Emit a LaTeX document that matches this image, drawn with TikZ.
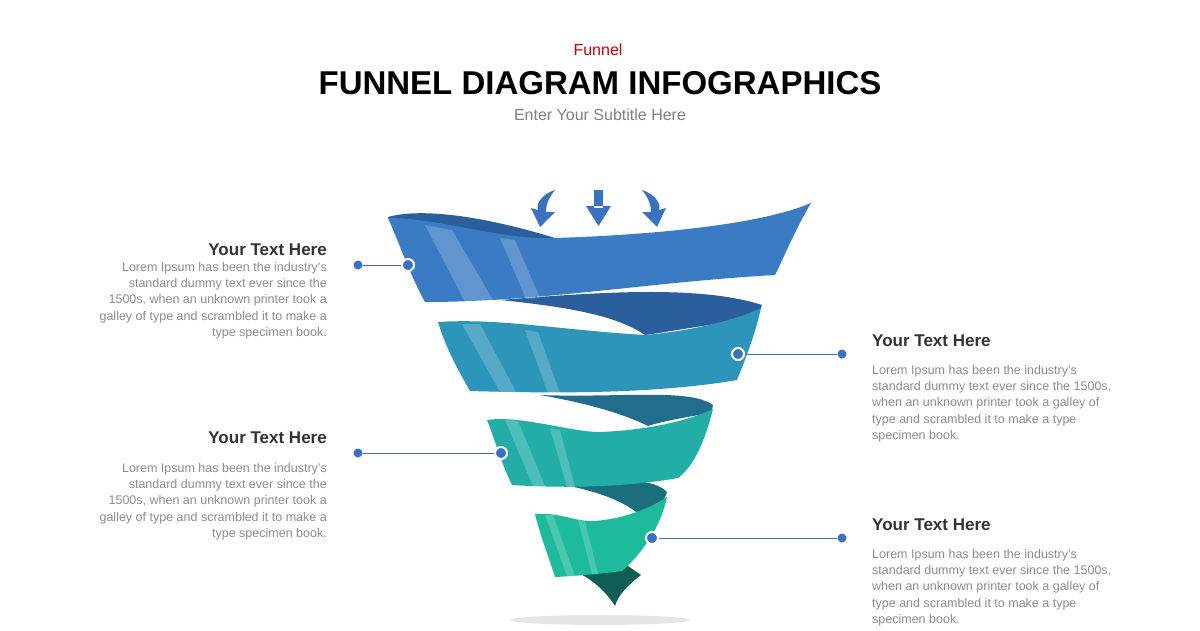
\documentclass[tikz,border=0pt]{standalone}
\usepackage{fontspec}
\setmainfont{Liberation Sans}
\definecolor{bA}{HTML}{3A7BC3}\definecolor{bAd}{HTML}{2B5E9C}
\definecolor{bB}{HTML}{2E95BA}\definecolor{bBd}{HTML}{226C8C}
\definecolor{bC}{HTML}{23ADA7}\definecolor{bCd}{HTML}{1A6F7A}
\definecolor{bD}{HTML}{1DBB9C}\definecolor{bDd}{HTML}{0F5E55}
\definecolor{lbody}{HTML}{8C8C8C}\definecolor{lhead}{HTML}{333333}
\definecolor{dotc}{HTML}{3A72C0}\definecolor{linec}{HTML}{3A6EA8}
\begin{document}
\begin{tikzpicture}[x=1pt,y=-1pt,
 hl/.style={fill=white,fill opacity=0.2},
 head/.style={font=\bfseries\fontsize{17}{20}\selectfont,text=lhead,inner sep=0},
 body/.style={font=\fontsize{12.5}{16.3}\selectfont,text=lbody,inner sep=0},
 dot/.style={circle,fill=dotc,draw=white,line width=2pt,minimum size=12pt,inner sep=0},
 sdot/.style={circle,fill=dotc,minimum size=9pt,inner sep=0},
 conn/.style={draw=linec,line width=0.9pt}]
\useasboundingbox (0,0) rectangle (1200,630);
\fill[white] (0,0) rectangle (1200,630);
% titles
\node[text=red!75!black,font=\fontsize{16}{18}\selectfont] (t0) at (598,50) {Funnel};
\node[font=\bfseries\fontsize{33}{38}\selectfont] (t1) at (600,83) {FUNNEL DIAGRAM INFOGRAPHICS};
\node[text=gray,font=\fontsize{16}{18}\selectfont] (t2) at (600,115) {Enter Your Subtitle Here};
% shadow
\fill[gray!40,opacity=0.5] (600,620) ellipse (90 and 5);
% arrows
\fill[dotc] (594,190) rectangle (603,208) (586,206) -- (611,206) -- (598.5,226) -- cycle;
\fill[dotc] (555,190) .. controls (540,195) and (536,205) .. (538,210) -- (531,208) -- (540,227) -- (555,212) -- (546,212) .. controls (546,203) and (550,196) .. (555,190) -- cycle;
\fill[dotc] (642,190) .. controls (657,195) and (661,205) .. (659,210) -- (666,208) -- (657,227) -- (642,212) -- (651,212) .. controls (651,203) and (647,196) .. (642,190) -- cycle;
% back pieces
\fill[bAd] (500,300) .. controls (600,292) and (700,285) .. (762,305) -- (756,320) .. controls (720,322) and (680,330) .. (645,335) .. controls (620,318) and (580,308) .. cycle;
\fill[bBd] (540,395) .. controls (620,398) and (690,388) .. (713,405) -- (711,413) .. controls (680,418) and (660,422) .. (648,426) .. controls (620,412) and (580,402) .. cycle;
\fill[bCd] (560,484) .. controls (610,482) and (650,475) .. (667,492) -- (662,505) .. controls (650,508) and (645,512) .. (640,515) .. controls (620,498) and (590,490) .. cycle;
\fill[bDd] (575,571) -- (628,566) -- (641,575) .. controls (628,585) and (618,595) .. (615,606) .. controls (605,590) and (590,578) .. cycle;
\fill[bAd] (388,217) .. controls (420,208) and (480,215) .. (555,238) -- (500,240) .. controls (450,230) and (420,225) .. (390,222) -- cycle;
% front bands
\fill[bA] (388,218) .. controls (440,218) and (500,240) .. (555,238) .. controls (650,235) and (760,225) .. (811,203) .. controls (795,230) and (785,255) .. (775,275) .. controls (650,282) and (540,302) .. (425,302) .. controls (410,275) and (400,245) .. cycle;
\fill[bB] (438,322) .. controls (500,318) and (560,330) .. (645,335) .. controls (700,330) and (740,318) .. (761,308) .. controls (755,335) and (745,360) .. (737,380) .. controls (650,395) and (540,393) .. (470,391) .. controls (455,365) and (445,345) .. cycle;
\fill[bC] (487,420) .. controls (520,415) and (570,432) .. (600,432) .. controls (650,430) and (690,420) .. (713,409) .. controls (705,440) and (695,465) .. (678,478) .. controls (620,488) and (560,488) .. (512,485) .. controls (500,460) and (495,440) .. cycle;
\fill[bD] (535,514) .. controls (560,512) and (575,522) .. (595,521) .. controls (630,518) and (655,505) .. (667,497) .. controls (660,530) and (640,555) .. (622,571) .. controls (600,574) and (575,576) .. (555,577) .. controls (548,555) and (540,535) .. cycle;
% highlights
\fill[hl] (425,225) -- (452,230) -- (493,300) -- (465,302) -- cycle;
\fill[hl] (500,238) -- (515,240) -- (540,298) -- (526,299) -- cycle;
\fill[hl] (462,324) -- (480,324) -- (516,392) -- (500,392) -- cycle;
\fill[hl] (525,330) -- (538,332) -- (560,393) -- (548,393) -- cycle;
\fill[hl] (505,420) -- (518,421) -- (545,486) -- (533,486) -- cycle;
\fill[hl] (550,428) -- (560,430) -- (575,487) -- (567,487) -- cycle;
\fill[hl] (545,515) -- (553,515) -- (575,576) -- (567,576) -- cycle;
\fill[hl] (578,520) -- (585,521) -- (598,574) -- (592,574) -- cycle;
% connectors
\node[sdot] (l1) at (358,265) {}; \node[dot] (d1) at (408,265) {};
\node[sdot] (l2) at (358,453) {}; \node[dot] (d2) at (501,453) {};
\node[sdot] (r1) at (842,354) {}; \node[dot] (d3) at (738,354) {};
\node[sdot] (r2) at (842,538) {}; \node[dot] (d4) at (652,538) {};
\draw[conn] (l1) -- (d1); \draw[conn] (l2) -- (d2);
\draw[conn] (d3) -- (r1); \draw[conn] (d4) -- (r2);
% text blocks
\node[head,anchor=base east] (h1) at (327,255) {Your Text Here};
\node[body,anchor=north east,align=right] (p1) at (327,262) {Lorem Ipsum has been the industry's\\standard dummy text ever since the\\1500s, when an unknown printer took a\\galley of type and scrambled it to make a\\type specimen book.};
\node[head,anchor=base east] (h2) at (327,443) {Your Text Here};
\node[body,anchor=north east,align=right] (p2) at (327,463) {Lorem Ipsum has been the industry's\\standard dummy text ever since the\\1500s, when an unknown printer took a\\galley of type and scrambled it to make a\\type specimen book.};
\node[head,anchor=base west] (h3) at (872,346) {Your Text Here};
\node[body,anchor=north west,align=left] (p3) at (872,365) {Lorem Ipsum has been the industry's\\standard dummy text ever since the 1500s,\\when an unknown printer took a galley of\\type and scrambled it to make a type\\specimen book.};
\node[head,anchor=base west] (h4) at (872,530) {Your Text Here};
\node[body,anchor=north west,align=left] (p4) at (872,549) {Lorem Ipsum has been the industry's\\standard dummy text ever since the 1500s,\\when an unknown printer took a galley of\\type and scrambled it to make a type\\specimen book.};
\end{tikzpicture}
\end{document}
